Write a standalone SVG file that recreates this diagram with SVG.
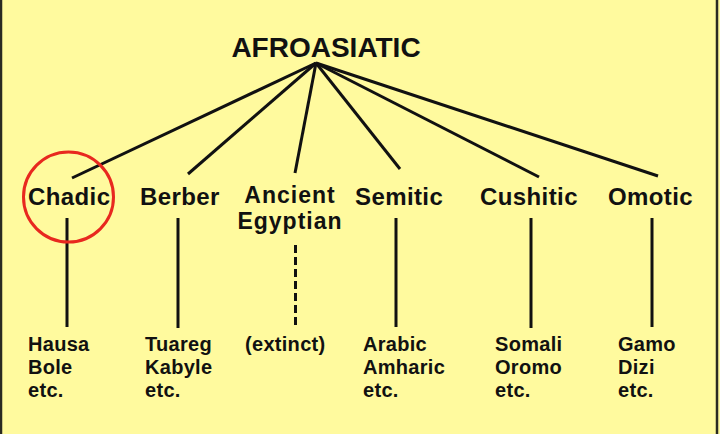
<svg xmlns="http://www.w3.org/2000/svg" width="720" height="434" viewBox="0 0 720 434">
  <style>
    .t { font-family: "Liberation Sans", Arial, sans-serif; font-weight: bold; fill: #111; }
    .title { font-size: 28px; }
    .grp { font-size: 24px; letter-spacing: 0.4px; }
    .grp2 { font-size: 23px; letter-spacing: 1px; }
    .lang { font-size: 20px; letter-spacing: 0.3px; }
    .ln { stroke: #111; stroke-width: 3; fill: none; stroke-linecap: butt; }
    .dash { stroke-dasharray: 8 4; }
  </style>
  <rect x="0" y="0" width="720" height="434" fill="#FFFA9E"/>
  <line x1="1" y1="0" x2="1" y2="434" stroke="#2a2a22" stroke-width="2.5"/>
  <line x1="717" y1="0" x2="717" y2="434" stroke="#2a2a22" stroke-width="2.5"/>

  <g id="connectors">
    <line class="ln" x1="316" y1="63" x2="72" y2="178"/>
    <line class="ln" x1="316" y1="63" x2="188" y2="174"/>
    <line class="ln" x1="316" y1="63" x2="295" y2="173"/>
    <line class="ln" x1="316" y1="63" x2="400" y2="169"/>
    <line class="ln" x1="316" y1="63" x2="539" y2="177"/>
    <line class="ln" x1="316" y1="63" x2="658" y2="176"/>
    <line class="ln" x1="67" y1="218" x2="67" y2="327"/>
    <line class="ln" x1="178" y1="218" x2="178" y2="328"/>
    <line class="ln dash" x1="295.5" y1="245" x2="295.5" y2="327"/>
    <line class="ln" x1="396" y1="218" x2="396" y2="327"/>
    <line class="ln" x1="531" y1="218" x2="531" y2="328"/>
    <line class="ln" x1="652" y1="218" x2="652" y2="327"/>
  </g>

  <g id="afroasiatic">
    <text class="t title" x="326" y="57" text-anchor="middle">AFROASIATIC</text>
  </g>

  <g id="chadic">
    <circle cx="68.5" cy="197" r="45" fill="none" stroke="#E8281F" stroke-width="3"/>
    <text class="t grp" x="28" y="205">Chadic</text>
  </g>
  <g id="berber">
    <text class="t grp" x="140" y="205">Berber</text>
  </g>
  <g id="ancient-egyptian">
    <text class="t grp2" x="290" y="203" text-anchor="middle">Ancient</text>
    <text class="t grp2" x="290" y="229" text-anchor="middle">Egyptian</text>
  </g>
  <g id="semitic">
    <text class="t grp" x="355" y="205">Semitic</text>
  </g>
  <g id="cushitic">
    <text class="t grp" x="480" y="205">Cushitic</text>
  </g>
  <g id="omotic">
    <text class="t grp" x="608" y="205">Omotic</text>
  </g>

  <g id="chadic-langs">
    <text class="t lang" x="28" y="351">Hausa</text>
    <text class="t lang" x="28" y="374">Bole</text>
    <text class="t lang" x="28" y="397">etc.</text>
  </g>
  <g id="berber-langs">
    <text class="t lang" x="145" y="351">Tuareg</text>
    <text class="t lang" x="145" y="374">Kabyle</text>
    <text class="t lang" x="145" y="397">etc.</text>
  </g>
  <g id="egyptian-status">
    <text class="t lang" x="245" y="351">(extinct)</text>
  </g>
  <g id="semitic-langs">
    <text class="t lang" x="363" y="351">Arabic</text>
    <text class="t lang" x="363" y="374">Amharic</text>
    <text class="t lang" x="363" y="397">etc.</text>
  </g>
  <g id="cushitic-langs">
    <text class="t lang" x="495" y="351">Somali</text>
    <text class="t lang" x="495" y="374">Oromo</text>
    <text class="t lang" x="495" y="397">etc.</text>
  </g>
  <g id="omotic-langs">
    <text class="t lang" x="618" y="351">Gamo</text>
    <text class="t lang" x="618" y="374">Dizi</text>
    <text class="t lang" x="618" y="397">etc.</text>
  </g>
</svg>
